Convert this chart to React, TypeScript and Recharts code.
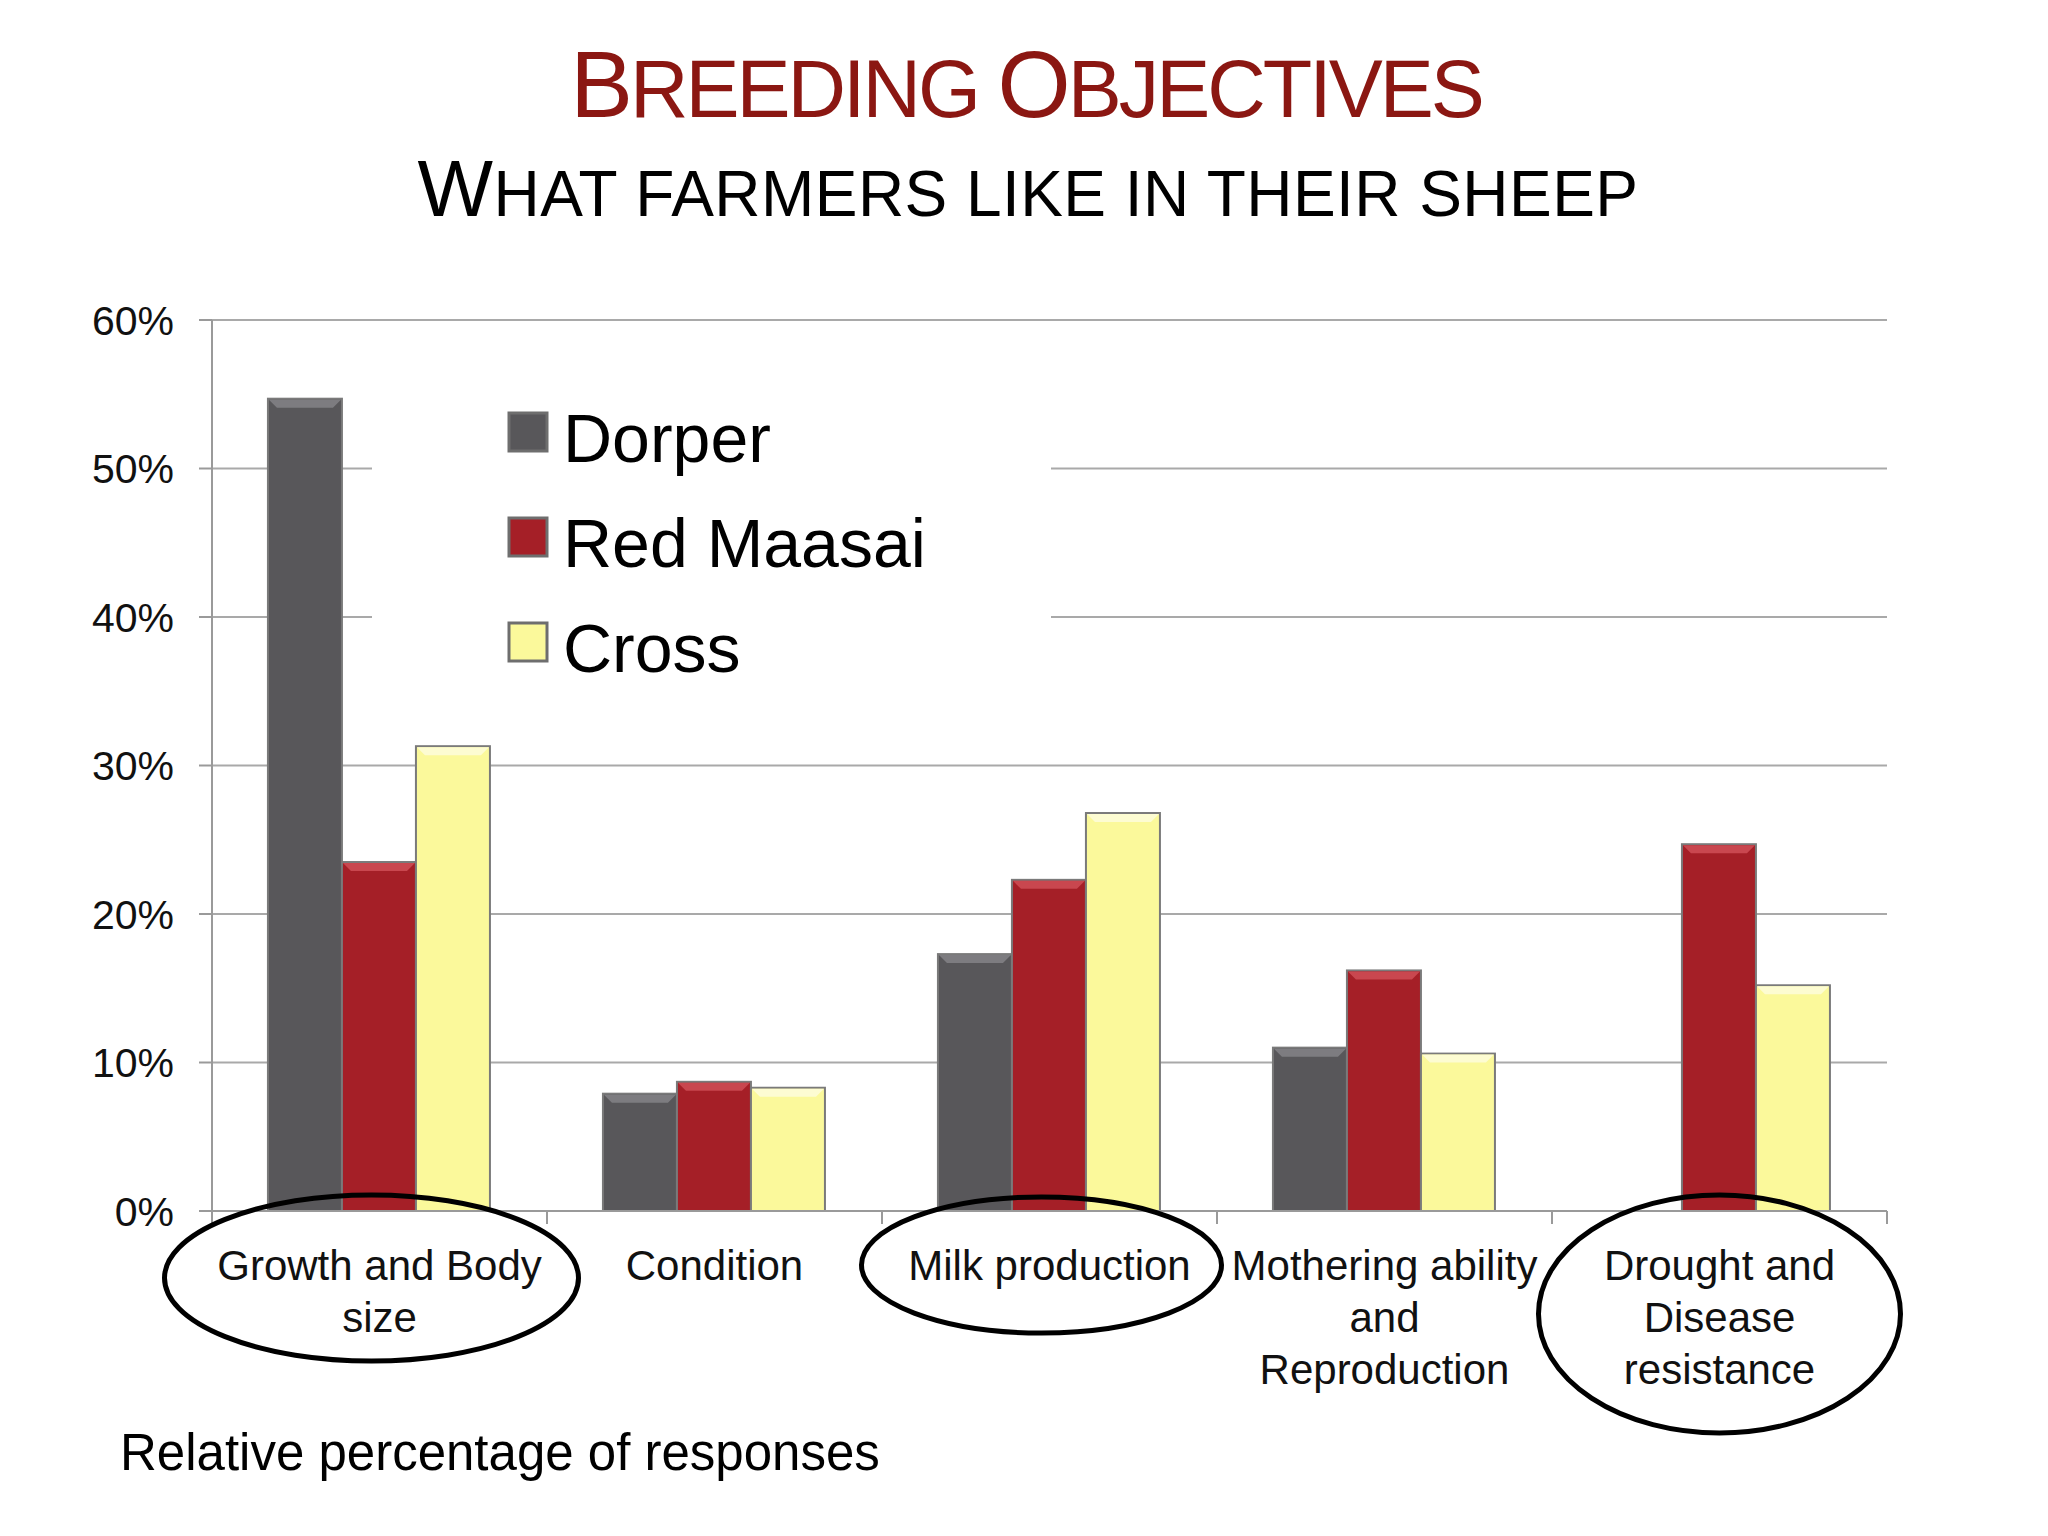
import React from 'react'
import { Bar, BarChart, CartesianGrid, Legend, XAxis, YAxis } from 'recharts'

const categoryLines: string[][] = [
  ['Growth and Body', 'size'],
  ['Condition'],
  ['Milk production'],
  ['Mothering ability', 'and', 'Reproduction'],
  ['Drought and', 'Disease', 'resistance'],
]
const categories = categoryLines.map((l) => l.join(' '))

const dorper = [54.7, 7.9, 17.3, 11.0, 0]
const redMaasai = [23.5, 8.7, 22.3, 16.2, 24.7]
const cross = [31.3, 8.3, 26.8, 10.6, 15.2]

const yTicks = [0, 10, 20, 30, 40, 50, 60]

// labels that get a hand-drawn ring around them
const circled: Record<string, { cx: number; cy: number; rx: number; ry: number }> = {
  'Growth and Body size': { cx: -8, cy: 67, rx: 207, ry: 83 },
  'Milk production': { cx: -8, cy: 54, rx: 180, ry: 68 },
  'Drought and Disease resistance': { cx: 0, cy: 103, rx: 181, ry: 119 },
}

const series = [
  { key: 'dorper', name: 'Dorper', fill: '#58575a', bevel: '#7d7c80' },
  { key: 'redMaasai', name: 'Red Maasai', fill: '#a51f27', bevel: '#c9474f' },
  { key: 'cross', name: 'Cross', fill: '#fbf99b', bevel: '#fdfcd2' },
]
const seriesOrder = series.map((s) => s.name)

const data = categories.map((category, i) => ({
  category,
  dorper: dorper[i],
  redMaasai: redMaasai[i],
  cross: cross[i],
}))

const W = 2048
const H = 1536
const FONT = '"Liberation Sans", Arial, sans-serif'
const AXIS = '#9a9a9a'

const BevelBar = (props: any) => {
  const { x, y, width, height, fill, bevel } = props
  if (!height || height <= 0) return null
  const b = Math.min(9, height / 2)
  return (
    <g>
      <rect x={x} y={y} width={width} height={height} fill={fill} stroke="#7a7a7a" strokeWidth={2} />
      <polygon
        points={`${x + 1},${y + 1} ${x + width - 1},${y + 1} ${x + width - b},${y + b} ${x + b},${y + b}`}
        fill={bevel}
      />
    </g>
  )
}

const CategoryTick = (props: any) => {
  const { x, y, payload, index } = props
  const half = payload?.offset ?? (W - 212 - 161) / categories.length / 2
  const lines = categoryLines[index] ?? [String(payload?.value)]
  const ring = circled[payload?.value]
  return (
    <g>
      {index === 0 && (
        <line x1={x - half} x2={x - half} y1={y} y2={y + 13} stroke={AXIS} strokeWidth={2} />
      )}
      <line x1={x + half} x2={x + half} y1={y} y2={y + 13} stroke={AXIS} strokeWidth={2} />
      <text x={x} y={y + 69} textAnchor="middle" fontSize={42} fontFamily={FONT} fill="#111">
        {lines.map((l, i) => (
          <tspan key={i} x={x} dy={i === 0 ? 0 : 52}>
            {l}
          </tspan>
        ))}
      </text>
      {ring && (
        <ellipse
          cx={x + ring.cx}
          cy={y + ring.cy}
          rx={ring.rx}
          ry={ring.ry}
          fill="none"
          stroke="#000"
          strokeWidth={5}
        />
      )}
    </g>
  )
}

const LegendBox = (props: any) => {
  const payload = [...(props.payload ?? [])].sort(
    (a: any, b: any) => seriesOrder.indexOf(a.value) - seriesOrder.indexOf(b.value)
  )
  return (
    <svg width={679} height={320} style={{ display: 'block' }}>
      <rect x={0} y={0} width={679} height={320} fill="#fff" />
      {payload.map((entry: any, i: number) => (
        <g key={entry.value}>
          <rect x={137} y={33 + i * 105} width={38} height={38} fill={entry.color} stroke="#6e6e6e" strokeWidth={3} />
          <text x={191} y={82 + i * 105} fontSize={68} fontFamily={FONT} fill="#000">
            {entry.value}
          </text>
        </g>
      ))}
    </svg>
  )
}

export default function App() {
  return (
    <div style={{ position: 'absolute', left: 0, top: 0, width: W, height: H, background: '#fff' }}>
      <BarChart
        width={W}
        height={H}
        data={data}
        margin={{ top: 320, right: 161, bottom: 125, left: 0 }}
        barCategoryGap="16.7%"
        barGap={0}
      >
        <CartesianGrid vertical={false} stroke="#a9a9a9" strokeWidth={2} />
        <XAxis
          dataKey="category"
          interval={0}
          height={200}
          tickSize={0}
          tickMargin={0}
          tickLine={false}
          axisLine={{ stroke: AXIS, strokeWidth: 2 }}
          tick={<CategoryTick />}
        />
        <YAxis
          width={212}
          domain={[0, 60]}
          ticks={yTicks}
          tickFormatter={(v: number) => `${v}%`}
          tickSize={13}
          tickMargin={25}
          axisLine={{ stroke: AXIS, strokeWidth: 2 }}
          tickLine={{ stroke: AXIS, strokeWidth: 2 }}
          tick={{ fontSize: 41, fontFamily: FONT, fill: '#111' }}
        />
        <Legend
          layout="vertical"
          align="center"
          verticalAlign="middle"
          content={<LegendBox />}
          wrapperStyle={{ position: 'absolute', left: 372, top: 380, width: 679, height: 320 }}
        />
        {series.map((s) => (
          <Bar
            key={s.key}
            dataKey={s.key}
            name={s.name}
            fill={s.fill}
            isAnimationActive={false}
            shape={(p: any) => <BevelBar {...p} fill={s.fill} bevel={s.bevel} />}
          />
        ))}
      </BarChart>
      <svg
        width={W}
        height={H}
        style={{ position: 'absolute', left: 0, top: 0, pointerEvents: 'none' }}
      >
        <text x={1026} y={117} textAnchor="middle" fontFamily={FONT} fill="#8b1712" letterSpacing={-3}>
          <tspan fontSize={94}>B</tspan>
          <tspan fontSize={81}>REEDING </tspan>
          <tspan fontSize={94}>O</tspan>
          <tspan fontSize={81}>BJECTIVES</tspan>
        </text>
        <text x={1028} y={216} textAnchor="middle" fontFamily={FONT} fill="#000" letterSpacing={0.45}>
          <tspan fontSize={80}>W</tspan>
          <tspan fontSize={64}>HAT FARMERS LIKE IN THEIR SHEEP</tspan>
        </text>
        <text x={120} y={1470} fontSize={51} fontFamily={FONT} fill="#000">
          Relative percentage of responses
        </text>
      </svg>
    </div>
  )
}
